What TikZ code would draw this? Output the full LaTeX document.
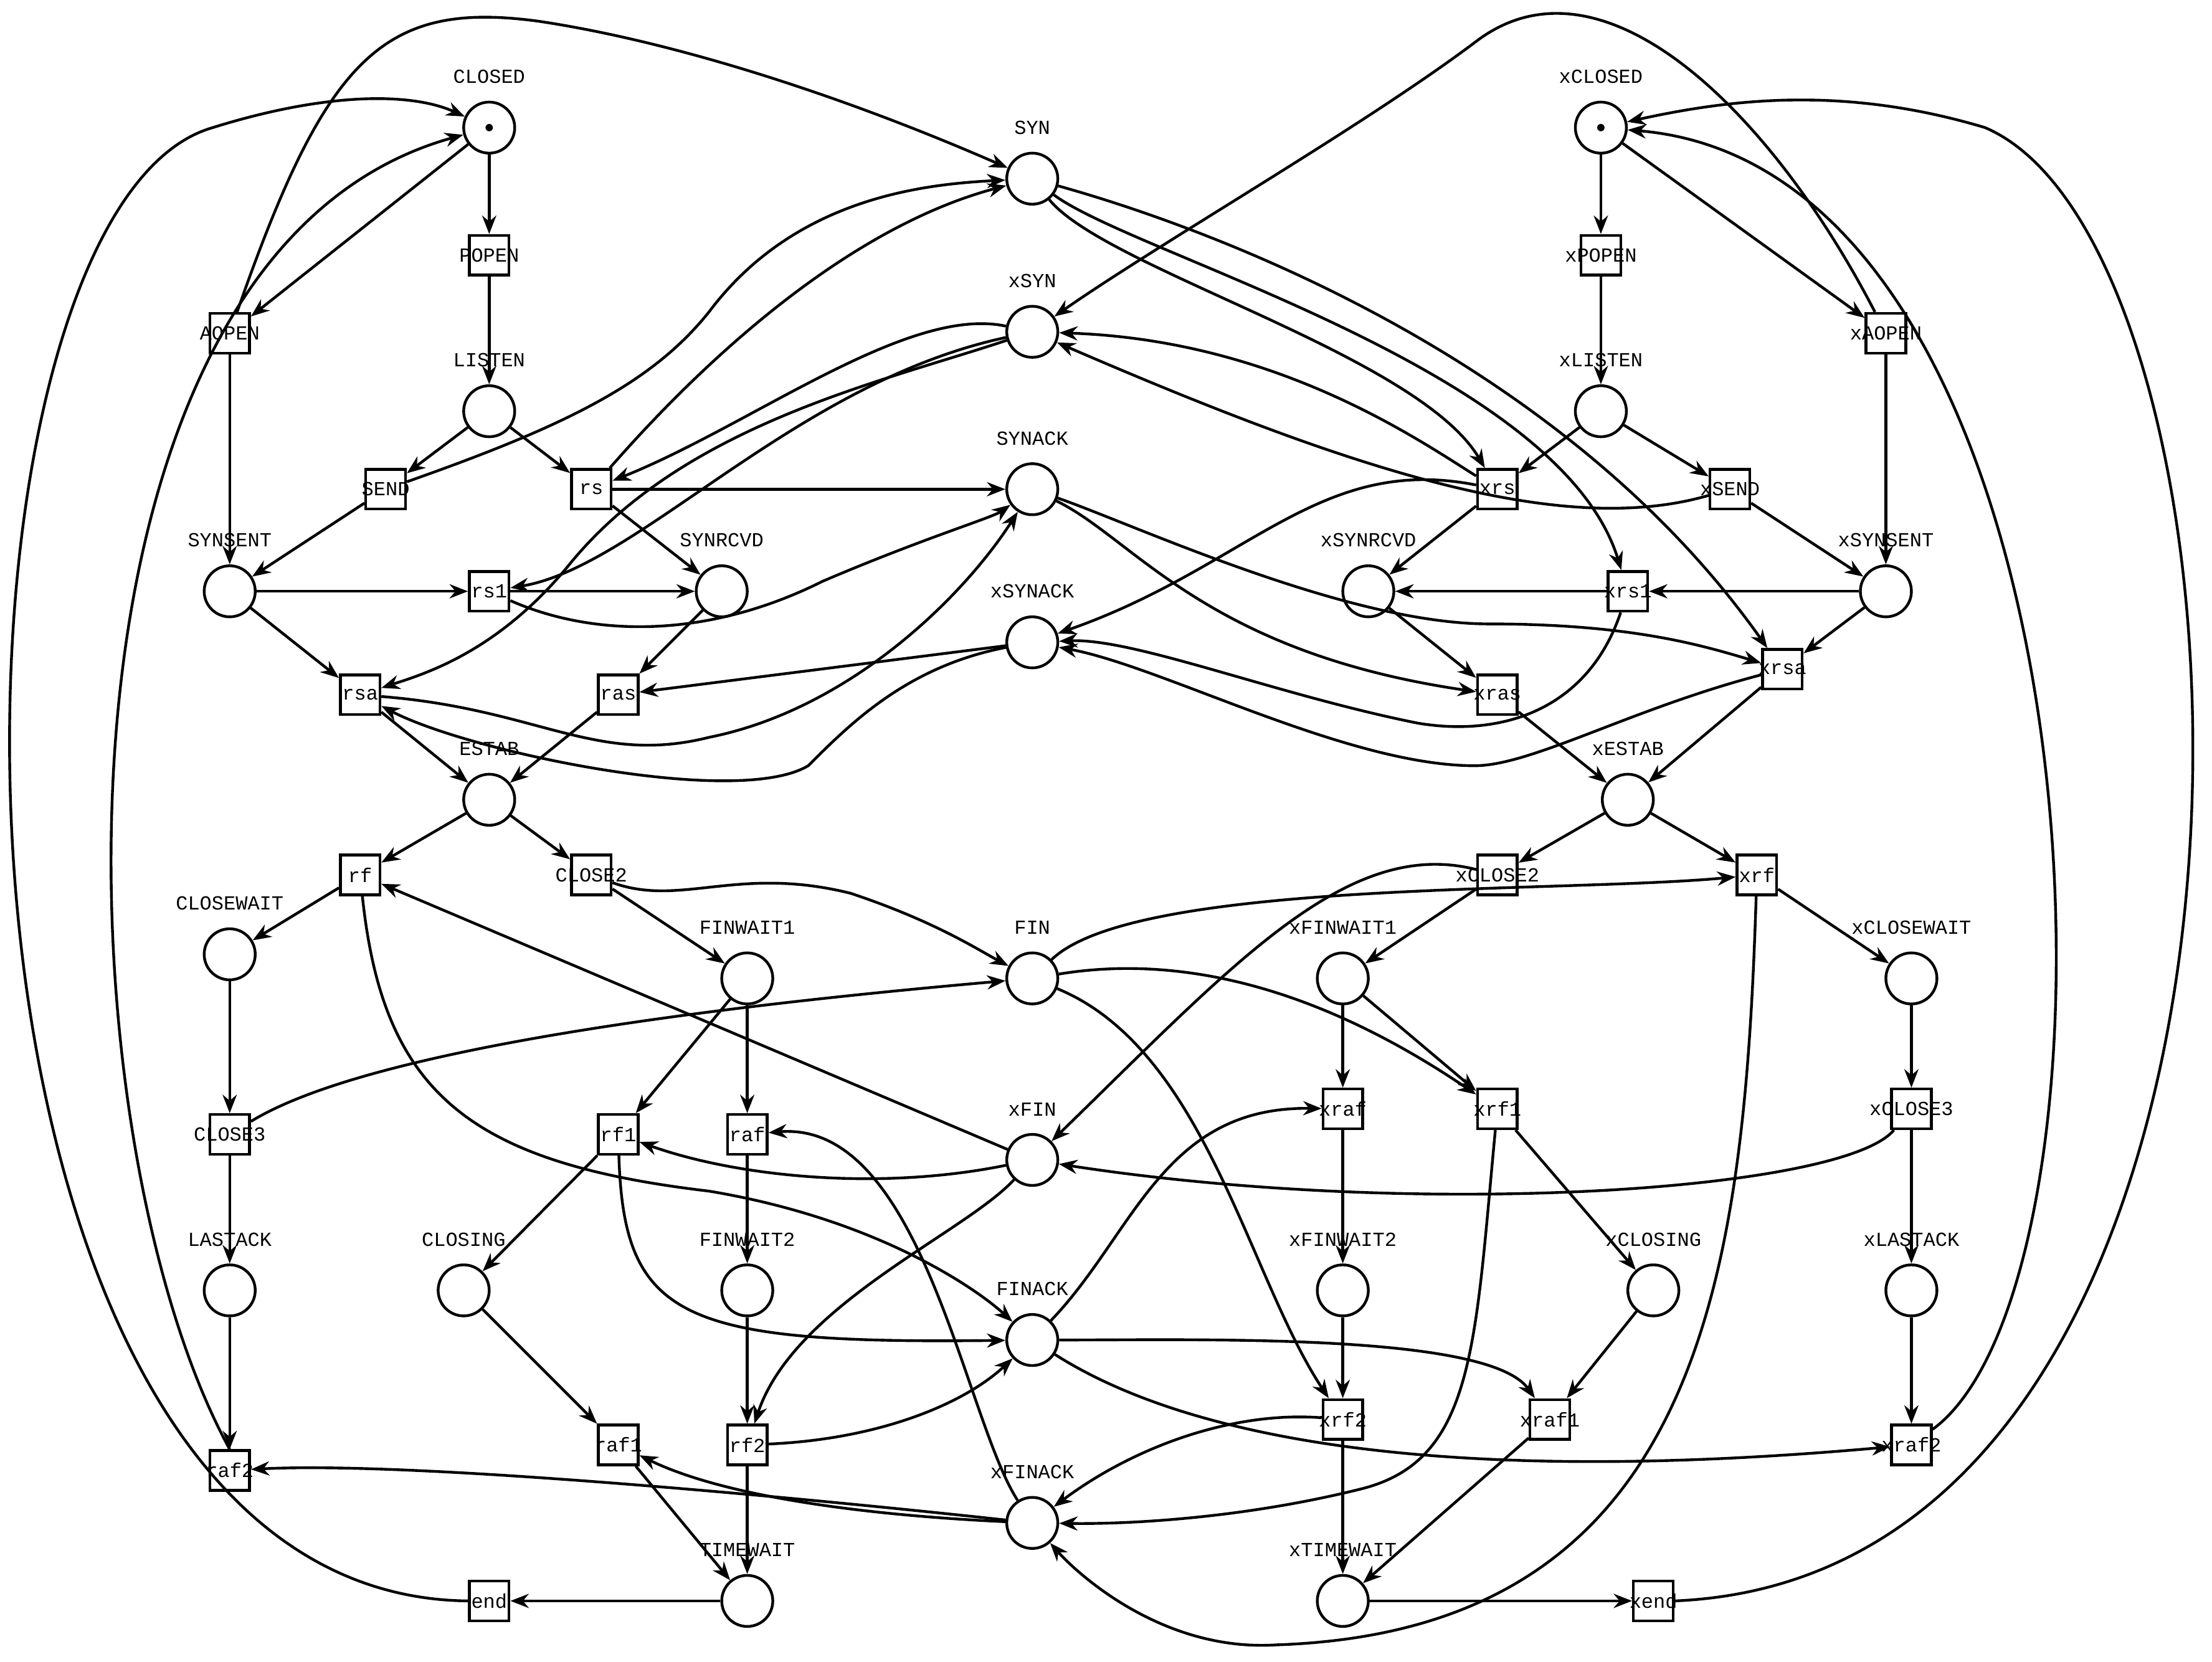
\documentclass[tikz,border=0pt]{standalone}
\usepackage{fontspec}
\setmonofont{Liberation Mono}
\usetikzlibrary{arrows.meta}
\begin{document}
\begin{tikzpicture}[x=0.2mm,y=-0.2mm,
  place/.style={circle,draw,line width=1.1pt,minimum size=7.2mm,inner sep=0pt,
     label={[font=\ttfamily\fontsize{8}{9}\selectfont,label distance=1.2mm]above:#1}},
  trans/.style={rectangle,draw,line width=1.1pt,minimum size=5.6mm,inner sep=0pt},
  tlab/.style={font=\ttfamily\fontsize{8}{9}\selectfont,inner sep=0pt},
  arc/.style={-{Stealth[length=2.6mm,width=2mm]},line width=1.1pt}]
\useasboundingbox (0,0) rectangle (1560,1172);
% places
\node[place=CLOSED] (CLOSED) at (345,90) {};
\node[place=SYN] (SYN) at (728,126) {};
\node[place=xSYN] (xSYN) at (728,234) {};
\node[place=SYNACK] (SYNACK) at (728,345) {};
\node[place=xSYNACK] (xSYNACK) at (728,453) {};
\node[place=LISTEN] (LISTEN) at (345,290) {};
\node[place=SYNSENT] (SYNSENT) at (162,417) {};
\node[place=SYNRCVD] (SYNRCVD) at (509,417) {};
\node[place=ESTAB] (ESTAB) at (345,564) {};
\node[place=CLOSEWAIT] (CLOSEWAIT) at (162,673) {};
\node[place=FINWAIT1] (FINWAIT1) at (527,690) {};
\node[place=FIN] (FIN) at (728,690) {};
\node[place=xFIN] (xFIN) at (728,818) {};
\node[place=LASTACK] (LASTACK) at (162,910) {};
\node[place=CLOSING] (CLOSING) at (327,910) {};
\node[place=FINWAIT2] (FINWAIT2) at (527,910) {};
\node[place=FINACK] (FINACK) at (728,945) {};
\node[place=xFINACK] (xFINACK) at (728,1074) {};
\node[place=TIMEWAIT] (TIMEWAIT) at (527,1129) {};
\node[place=xCLOSED] (xCLOSED) at (1129,90) {};
\node[place=xLISTEN] (xLISTEN) at (1129,290) {};
\node[place=xSYNRCVD] (xSYNRCVD) at (965,417) {};
\node[place=xSYNSENT] (xSYNSENT) at (1330,417) {};
\node[place=xESTAB] (xESTAB) at (1148,564) {};
\node[place=xFINWAIT1] (xFINWAIT1) at (947,690) {};
\node[place=xCLOSEWAIT] (xCLOSEWAIT) at (1348,690) {};
\node[place=xFINWAIT2] (xFINWAIT2) at (947,910) {};
\node[place=xCLOSING] (xCLOSING) at (1166,910) {};
\node[place=xLASTACK] (xLASTACK) at (1348,910) {};
\node[place=xTIMEWAIT] (xTIMEWAIT) at (947,1129) {};
\fill (CLOSED) circle (2.6); \fill (xCLOSED) circle (2.6);
% transitions
\foreach \n/\x/\y in {POPEN/345/180,AOPEN/162/235,SEND/272/345,rs/417/345,rs1/345/417,
 rsa/254/490,ras/436/490,rf/254/617,CLOSE2/417/617,CLOSE3/162/800,rf1/436/800,raf/527/800,
 raf1/436/1019,rf2/527/1019,raf2/162/1037,end/345/1129,xPOPEN/1129/180,xAOPEN/1330/235,
 xrs/1056/345,xSEND/1220/345,xrs1/1148/417,xrsa/1257/472,xras/1056/490,xCLOSE2/1056/617,
 xrf/1239/617,xraf/947/782,xrf1/1056/782,xCLOSE3/1348/782,xrf2/947/1001,xraf1/1093/1001,
 xraf2/1348/1019,xend/1166/1129}
 {\node[trans] (\n) at (\x,\y) {}; \node[tlab] at (\n) {\n};}
% straight arcs
\foreach \a/\b in {CLOSED/POPEN,POPEN/LISTEN,CLOSED/AOPEN,AOPEN/SYNSENT,LISTEN/SEND,LISTEN/rs,
 SEND/SYNSENT,rs/SYNACK,rs/SYNRCVD,SYNSENT/rs1,rs1/SYNRCVD,SYNSENT/rsa,rsa/ESTAB,SYNRCVD/ras,
 ras/ESTAB,xSYNACK/ras,ESTAB/rf,ESTAB/CLOSE2,rf/CLOSEWAIT,CLOSEWAIT/CLOSE3,CLOSE3/LASTACK,
 LASTACK/raf2,CLOSE2/FINWAIT1,FINWAIT1/rf1,FINWAIT1/raf,xFIN/rf,rf1/CLOSING,raf/FINWAIT2,
 FINWAIT2/rf2,rf2/TIMEWAIT,CLOSING/raf1,raf1/TIMEWAIT,TIMEWAIT/end,
 xCLOSED/xPOPEN,xPOPEN/xLISTEN,xCLOSED/xAOPEN,xAOPEN/xSYNSENT,xLISTEN/xrs,xLISTEN/xSEND,
 xSEND/xSYNSENT,xrs/xSYNRCVD,xSYNSENT/xrs1,xrs1/xSYNRCVD,xSYNSENT/xrsa,xSYNRCVD/xras,
 xras/xESTAB,xrsa/xESTAB,xESTAB/xCLOSE2,xESTAB/xrf,xrf/xCLOSEWAIT,xCLOSEWAIT/xCLOSE3,
 xCLOSE3/xLASTACK,xLASTACK/xraf2,xCLOSE2/xFINWAIT1,xFINWAIT1/xraf,xFINWAIT1/xrf1,
 xrf1/xCLOSING,xraf/xFINWAIT2,xFINWAIT2/xrf2,xrf2/xTIMEWAIT,xCLOSING/xraf1,xraf1/xTIMEWAIT,
 xTIMEWAIT/xend}
 {\draw[arc] (\a) -- (\b);}
% curved arcs left
\draw[arc] (AOPEN) .. controls (230,40) and (270,0) .. (380,15) .. controls (480,30) and (600,70) .. (SYN);
\draw[arc] (SEND) .. controls (400,300) and (460,270) .. (500,220) .. controls (560,140) and (650,130) .. (SYN);
\draw[arc] (rs) .. controls (500,250) and (600,160) .. (SYN);
\draw[arc] (xSYN) .. controls (640,215) and (530,300) .. (rs);
\draw[arc] (xSYN) .. controls (560,270) and (450,400) .. (rs1);
\draw[arc] (xSYN) .. controls (620,270) and (480,300) .. (400,400) .. controls (350,460) and (300,475) .. (rsa);
\draw[arc] (rs1) .. controls (420,450) and (500,450) .. (580,410) .. controls (650,380) and (700,365) .. (SYNACK);
\draw[arc] (rsa) .. controls (380,500) and (420,540) .. (500,520) .. controls (600,500) and (680,420) .. (SYNACK);
\draw[arc] (xSYNACK) .. controls (640,470) and (600,510) .. (570,540) .. controls (520,570) and (330,530) .. (rsa);
\draw[arc] (CLOSE2) .. controls (480,640) and (520,610) .. (600,630) .. controls (660,650) and (690,670) .. (FIN);
\draw[arc] (CLOSE3) .. controls (260,740) and (500,710) .. (FIN);
\draw[arc] (rf) .. controls (270,770) and (330,820) .. (500,840) .. controls (620,860) and (690,910) .. (FINACK);
\draw[arc] (rf1) .. controls (440,930) and (480,948) .. (FINACK);
\draw[arc] (rf2) .. controls (620,1015) and (680,990) .. (FINACK);
\draw[arc] (xFIN) .. controls (680,870) and (560,920) .. (rf2);
\draw[arc] (xFIN) .. controls (620,840) and (520,830) .. (rf1);
\draw[arc] (xFINACK) .. controls (680,1000) and (650,790) .. (raf);
\draw[arc] (xFINACK) .. controls (640,1070) and (520,1060) .. (raf1);
\draw[arc] (xFINACK) .. controls (600,1060) and (300,1030) .. (raf2);
\draw[arc] (raf2.north) .. controls (40,800) and (20,180) .. (CLOSED);
\draw[arc] (end.west) .. controls (-70,1125) and (-60,150) .. (150,90) .. controls (230,65) and (290,65) .. (CLOSED);
% curved arcs right
\draw[arc] (SYN) .. controls (780,190) and (1000,250) .. (xrs);
\draw[arc] (SYN) .. controls (800,180) and (1100,260) .. (xrs1);
\draw[arc] (SYN) .. controls (850,160) and (1100,250) .. (xrsa);
\draw[arc] (xrs) .. controls (1000,310) and (900,240) .. (xSYN);
\draw[arc] (xSEND) .. controls (1100,380) and (950,330) .. (xSYN);
\draw[arc] (xAOPEN) .. controls (1250,80) and (1130,-40) .. (1040,30) .. controls (960,90) and (820,170) .. (xSYN);
\draw[arc] (xrs) .. controls (930,320) and (880,400) .. (xSYNACK);
\draw[arc] (SYNACK) .. controls (800,380) and (850,460) .. (xras);
\draw[arc] (SYNACK) .. controls (800,370) and (950,440) .. (1050,440) .. controls (1150,440) and (1200,455) .. (xrsa);
\draw[arc] (xrs1) .. controls (1120,500) and (1060,520) .. (1000,510) .. controls (900,490) and (800,450) .. (xSYNACK);
\draw[arc] (xrsa) .. controls (1150,500) and (1080,540) .. (1040,540) .. controls (950,540) and (820,470) .. (xSYNACK);
\draw[arc] (xCLOSE2) .. controls (950,590) and (870,680) .. (xFIN);
\draw[arc] (FIN) .. controls (800,620) and (1100,630) .. (xrf);
\draw[arc] (FIN) .. controls (850,670) and (950,710) .. (xrf1);
\draw[arc] (FIN) .. controls (850,740) and (880,900) .. (xrf2);
\draw[arc] (xCLOSE3) .. controls (1300,840) and (1000,860) .. (xFIN);
\draw[arc] (FINACK) .. controls (800,870) and (820,780) .. (xraf);
\draw[arc] (FINACK) .. controls (850,945) and (1050,940) .. (xraf1);
\draw[arc] (FINACK) .. controls (830,1010) and (1000,1050) .. (xraf2);
\draw[arc] (xrf) .. controls (1230,900) and (1200,1150) .. (900,1160) .. controls (820,1165) and (760,1110) .. (xFINACK);
\draw[arc] (xrf1) .. controls (1040,950) and (1040,1030) .. (960,1050) .. controls (880,1070) and (800,1075) .. (xFINACK);
\draw[arc] (xrf2) .. controls (870,995) and (800,1020) .. (xFINACK);
\draw[arc] (xraf2) .. controls (1510,900) and (1490,120) .. (xCLOSED);
\draw[arc] (xend.east) .. controls (1640,1110) and (1610,180) .. (1400,90) .. controls (1300,60) and (1220,70) .. (xCLOSED);
\end{tikzpicture}
\end{document}
